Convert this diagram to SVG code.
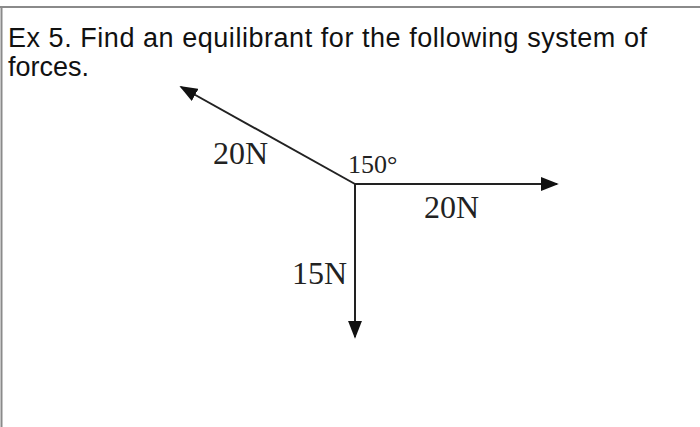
<svg xmlns="http://www.w3.org/2000/svg" width="700" height="427" viewBox="0 0 700 427">
<style>
.title{font-family:"Liberation Sans",Arial,sans-serif;font-size:27px;fill:#111}
.lbl{font-family:"Liberation Serif","Times New Roman",serif;font-size:32px;fill:#222}
.ang{font-family:"Liberation Serif","Times New Roman",serif;font-size:26px;fill:#222}
.force{stroke:#222;stroke-width:2;fill:none}
.frame{stroke:#8a8a8a;stroke-width:2;fill:none}
</style>
<defs>
<marker id="ahL" viewBox="0 0 10 10" refX="9" refY="5" markerWidth="18" markerHeight="14" markerUnits="userSpaceOnUse" orient="auto" preserveAspectRatio="none">
<path d="M0,0 L10,5 L0,10 z" fill="#111"/>
</marker>
</defs>
<rect width="700" height="427" fill="#fff"/>
<g id="frame">
<line class="frame" x1="0" y1="7" x2="700" y2="7"/>
<line class="frame" x1="1.5" y1="7" x2="1.5" y2="427"/>
</g>
<g id="title">
<text class="title" x="8" y="47" textLength="639" lengthAdjust="spacing">Ex 5. Find an equilibrant for the following system of</text>
<text class="title" x="8" y="76">forces.</text>
</g>
<g id="connectors">
<line class="force" x1="355" y1="184" x2="181" y2="87" marker-end="url(#ahL)"/>
<line class="force" x1="355" y1="184" x2="557" y2="184" marker-end="url(#ahL)"/>
<line class="force" x1="355" y1="184" x2="355" y2="337" marker-end="url(#ahL)"/>
</g>
<g id="labels">
<text class="lbl" x="213" y="164">20N</text>
<text class="ang" x="348" y="173">150°</text>
<text class="lbl" x="424" y="218">20N</text>
<text class="lbl" x="292" y="284">15N</text>
</g>
</svg>
